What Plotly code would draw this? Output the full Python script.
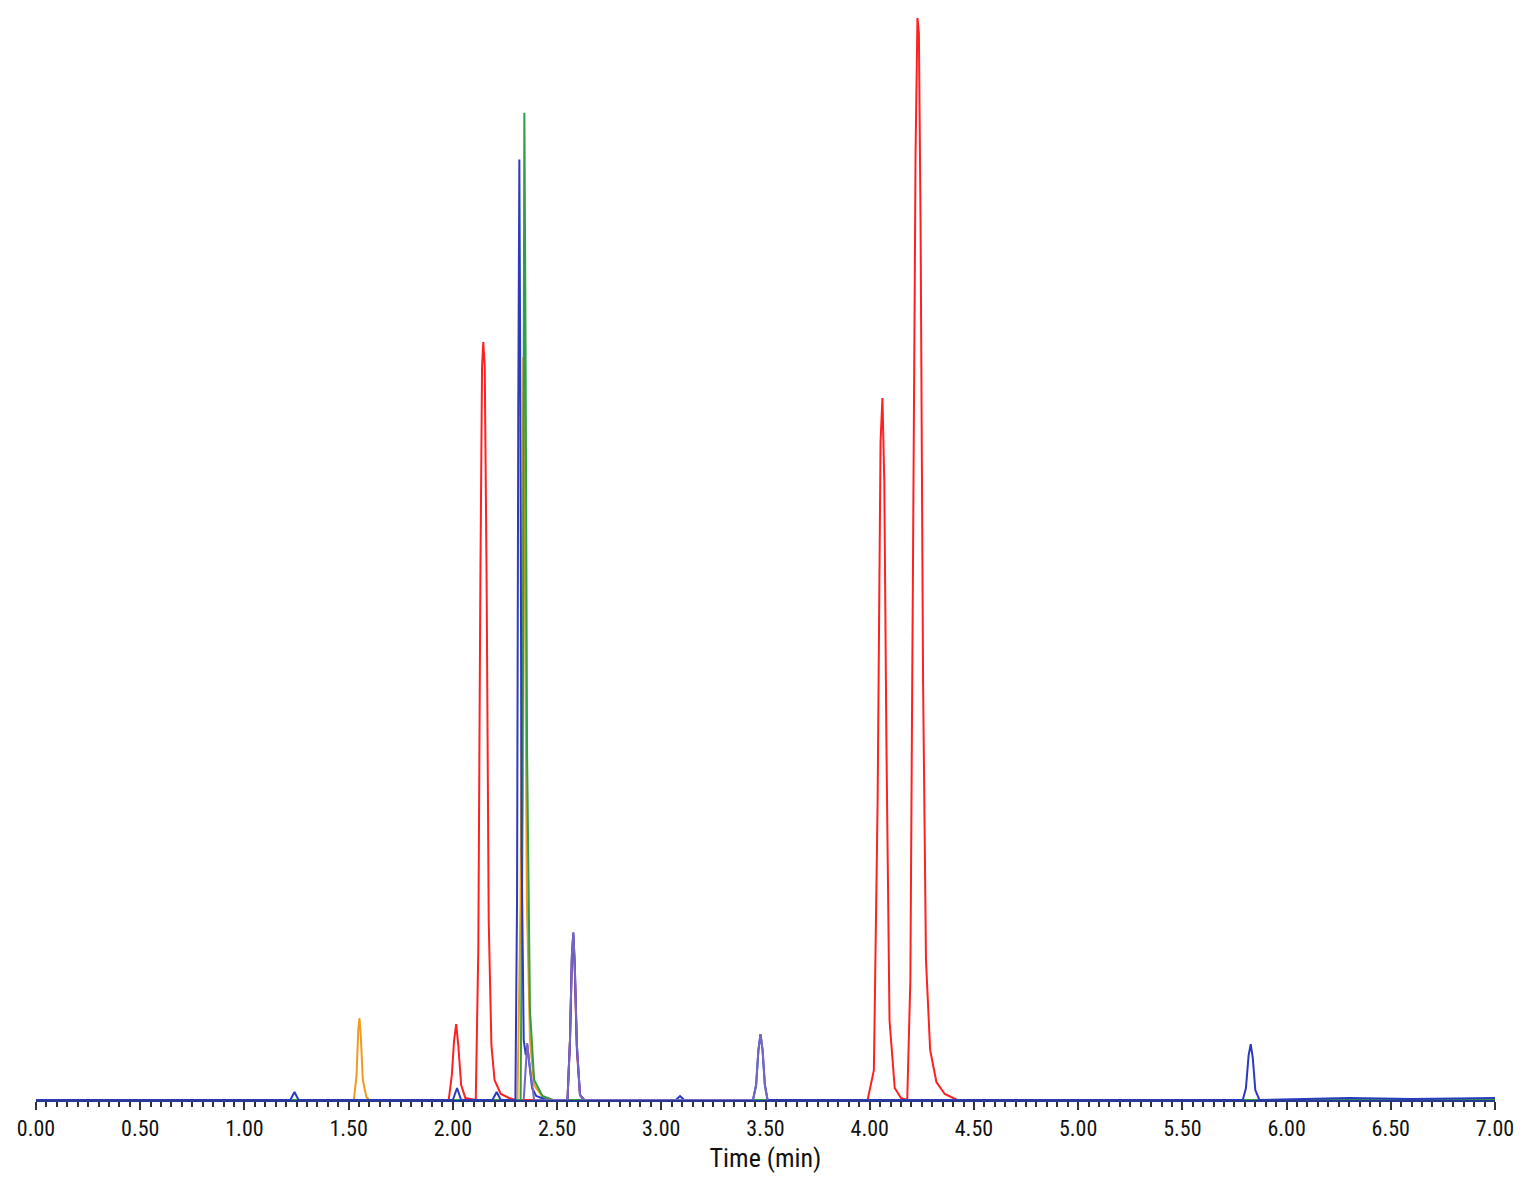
import plotly.graph_objects as go

red_t = [0, 1.98, 1.995, 2.006, 2.016, 2.026, 2.04, 2.06, 2.11, 2.122, 2.132, 2.14, 2.146, 2.153, 2.162, 2.172, 2.185, 2.20, 2.23, 2.27, 2.30, 2.55, 2.562, 2.571, 2.578, 2.585, 2.595, 2.61, 2.63, 3.99, 4.02, 4.038, 4.052, 4.061, 4.07, 4.08, 4.095, 4.12, 4.15, 4.18, 4.195, 4.208, 4.22, 4.229, 4.236, 4.244, 4.256, 4.27, 4.29, 4.32, 4.36, 4.42, 7.0]
red_y = [0, 0, 25, 60, 76, 55, 15, 2, 0, 150, 520, 735, 760, 735, 520, 180, 55, 20, 6, 2, 0, 0, 60, 140, 165, 130, 50, 5, 0, 0, 30, 300, 660, 704, 620, 360, 80, 12, 2, 0, 120, 520, 950, 1085, 1070, 880, 420, 140, 50, 18, 6, 0, 0]

orange_t = [0, 1.525, 1.538, 1.546, 1.552, 1.558, 1.568, 1.585, 1.60, 2.31, 2.325, 2.333, 2.338, 2.345, 2.355, 2.37, 2.39, 2.43, 2.48, 7.0]
orange_y = [0, 0, 25, 70, 82, 65, 20, 3, 0, 0, 200, 620, 745, 560, 200, 60, 15, 3, 0, 0]

green_t = [0, 2.325, 2.335, 2.34, 2.343, 2.348, 2.356, 2.37, 2.39, 2.43, 2.48, 7.0]
green_y = [0, 0, 300, 850, 990, 800, 350, 90, 20, 4, 0, 0]

blue_t = [0, 1.22, 1.235, 1.24, 1.245, 1.26, 2.00, 2.015, 2.02, 2.025, 2.04, 2.19, 2.205, 2.21, 2.215, 2.23, 2.30, 2.308, 2.314, 2.319, 2.324, 2.33, 2.34, 2.35, 2.357, 2.365, 2.38, 2.40, 2.45, 2.55, 2.562, 2.571, 2.578, 2.585, 2.595, 2.61, 2.63, 3.07, 3.085, 3.09, 3.095, 3.11, 3.44, 3.455, 3.466, 3.476, 3.486, 3.497, 3.51, 5.79, 5.805, 5.818, 5.828, 5.838, 5.85, 5.87, 6.30, 6.60, 7.0]
blue_y = [0, 0, 6, 8, 6, 0, 0, 9, 12, 9, 0, 0, 6, 8, 6, 0, 0, 200, 700, 943, 700, 250, 60, 45, 55, 40, 12, 4, 0, 0, 60, 145, 168, 135, 55, 5, 0, 0, 3, 4, 3, 0, 0, 15, 50, 66, 50, 15, 0, 0, 12, 45, 56, 42, 10, 0, 2, 1, 2]

purple_t = [2.34, 2.35, 2.357, 2.365, 2.39, 2.55, 2.562, 2.571, 2.578, 2.585, 2.595, 2.61, 2.63, 3.44, 3.455, 3.466, 3.476, 3.486, 3.497, 3.51]
purple_y = [0, 40, 57, 40, 0, 0, 60, 145, 168, 135, 55, 5, 0, 0, 15, 50, 66, 50, 15, 0]

tick_vals = [i * 0.5 for i in range(15)]
tick_text = [f"{v:.2f}" for v in tick_vals]

fig = go.Figure()
fig.add_trace(go.Scatter(x=red_t, y=red_y, mode="lines", line=dict(color="#ff2020", width=2)))
fig.add_trace(go.Scatter(x=orange_t, y=orange_y, mode="lines", line=dict(color="#f39a1e", width=2)))
fig.add_trace(go.Scatter(x=green_t, y=green_y, mode="lines", line=dict(color="#2e9e48", width=2)))
fig.add_trace(go.Scatter(x=blue_t, y=blue_y, mode="lines", line=dict(color="#2a3bc0", width=2)))
fig.add_trace(go.Scatter(x=purple_t, y=purple_y, mode="lines", line=dict(color="#7466c4", width=2)))

fig.update_layout(
    width=1539, height=1190, showlegend=False,
    plot_bgcolor="white", paper_bgcolor="white",
    margin=dict(l=28, r=52, t=0, b=98),
    font=dict(family="Liberation Sans Narrow, Roboto Condensed, Roboto", size=22, color="#111"),
    xaxis=dict(range=[0, 7.0], tickvals=tick_vals, ticktext=tick_text, showgrid=False, zeroline=False,
               showline=True, linecolor="#2a3b8f", linewidth=2, ticks="outside", ticklen=8, tickwidth=2,
               tickcolor="#333",
               minor=dict(dtick=0.05, ticks="outside", ticklen=5, tickcolor="#333", tickwidth=1.5),
               title=dict(text="Time (min)", standoff=8)),
    yaxis=dict(range=[0, 1095], visible=False),
)
fig.write_html("out.html")
